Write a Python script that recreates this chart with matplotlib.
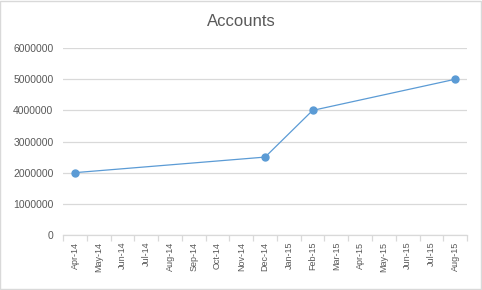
import matplotlib
matplotlib.use("Agg")
import matplotlib.pyplot as plt
from matplotlib.patches import Rectangle

plt.rcParams["font.family"] = ["Liberation Sans", "DejaVu Sans"]

# months on the category axis
months = ["Apr-14", "May-14", "Jun-14", "Jul-14", "Aug-14", "Sep-14", "Oct-14",
          "Nov-14", "Dec-14", "Jan-15", "Feb-15", "Mar-15", "Apr-15", "May-15",
          "Jun-15", "Jul-15", "Aug-15"]
point_months = ["Apr-14", "Dec-14", "Feb-15", "Aug-15"]
accounts = [2000000, 2500000, 4000000, 5000000]
yticks = [0, 1000000, 2000000, 3000000, 4000000, 5000000, 6000000]

grey = "#595959"
grid = "#D9D9D9"
blue = "#5B9BD5"

fig = plt.figure(figsize=(4.82, 2.90), dpi=100)
ax = fig.add_axes([0.131, 0.19, 0.838, 0.644])

xs = [months.index(m) for m in point_months]
ax.plot(xs, accounts, color=blue, lw=0.9, marker="o", markersize=5, zorder=3)

ax.set_xlim(-0.5, len(months) - 0.5)
ax.set_ylim(0, 6000000)
ax.set_yticks(yticks)
ax.set_yticklabels([str(v) for v in yticks], fontsize=7.5, color=grey)
ax.yaxis.grid(True, color=grid, lw=0.9)
ax.set_axisbelow(True)
ax.tick_params(axis="y", length=0, pad=7)

ax.set_xticks(range(len(months)))
ax.set_xticklabels(months, rotation=90, fontsize=6.5, color=grey)
ax.set_xticks([i - 0.5 for i in range(len(months) + 1)], minor=True)
ax.tick_params(axis="x", which="major", length=0, pad=5)
ax.tick_params(axis="x", which="minor", length=4, color=grid, width=0.9)

for s in ["top", "right", "left"]:
    ax.spines[s].set_visible(False)
ax.spines["bottom"].set_color(grid)
ax.spines["bottom"].set_linewidth(0.9)

fig.text(0.5, 0.925, "Accounts", ha="center", va="center", fontsize=12, color=grey)
fig.patches.append(Rectangle((0.001, 0.002), 0.997, 0.995, transform=fig.transFigure,
                             fill=False, edgecolor=grid, lw=1))

fig.savefig("out.png", dpi=100)
